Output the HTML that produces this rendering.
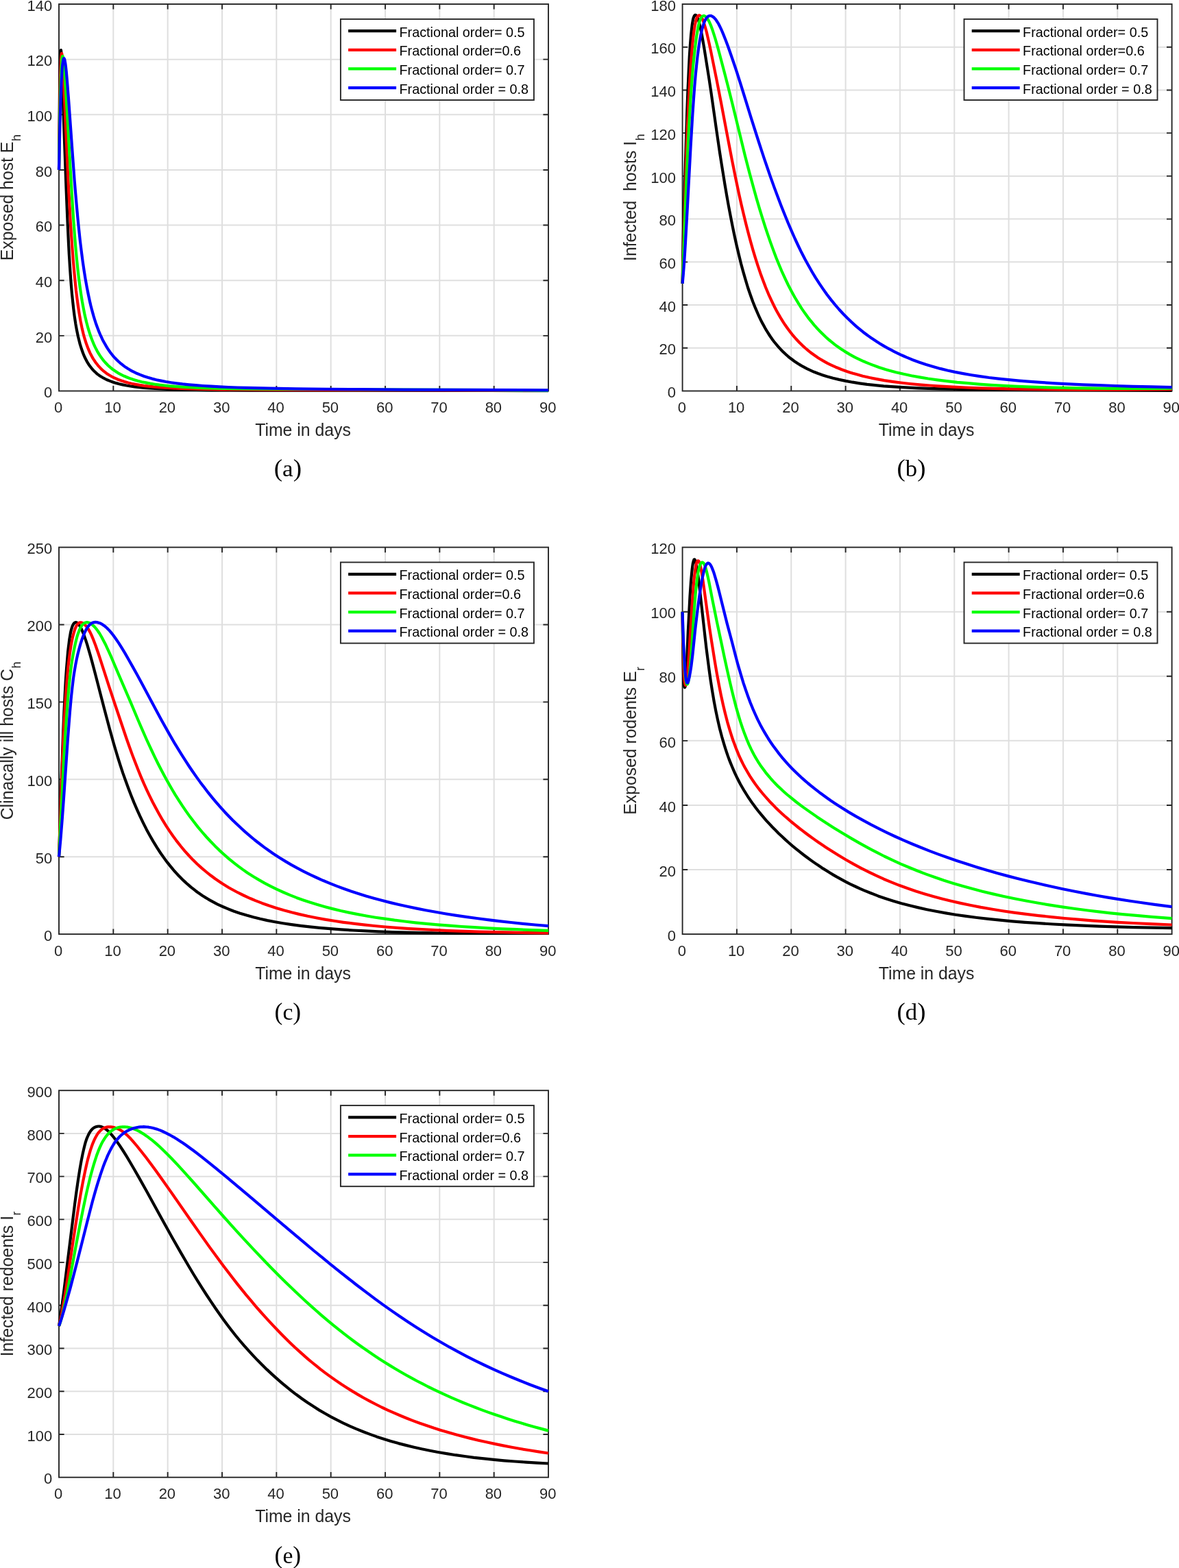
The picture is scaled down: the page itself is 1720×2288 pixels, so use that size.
<!DOCTYPE html>
<html lang="en">
<head>
<meta charset="utf-8">
<title>Fractional order model simulations</title>
<style>
html, body { margin: 0; padding: 0; background: #ffffff; }
body { width: 1720px; height: 2288px; overflow: hidden; }
svg { display: block; font-family: "Liberation Sans", "DejaVu Sans", sans-serif; }
</style>
</head>
<body>
<svg width="1720" height="2288" viewBox="0 0 1720 2288">
<rect x="0" y="0" width="1720" height="2288" fill="#ffffff"/>
<g id="panel-a">
<path d="M165.33 6 V570.5 M244.67 6 V570.5 M324 6 V570.5 M403.33 6 V570.5 M482.67 6 V570.5 M562 6 V570.5 M641.33 6 V570.5 M720.67 6 V570.5 M86 489.86 H800 M86 409.21 H800 M86 328.57 H800 M86 247.93 H800 M86 167.29 H800 M86 86.64 H800" stroke="#dfdfdf" stroke-width="2" fill="none"/>
<path d="M165.33 570.5 v-7.6 M165.33 6 v7.6 M244.67 570.5 v-7.6 M244.67 6 v7.6 M324 570.5 v-7.6 M324 6 v7.6 M403.33 570.5 v-7.6 M403.33 6 v7.6 M482.67 570.5 v-7.6 M482.67 6 v7.6 M562 570.5 v-7.6 M562 6 v7.6 M641.33 570.5 v-7.6 M641.33 6 v7.6 M720.67 570.5 v-7.6 M720.67 6 v7.6 M86 489.86 h7.6 M800 489.86 h-7.6 M86 409.21 h7.6 M800 409.21 h-7.6 M86 328.57 h7.6 M800 328.57 h-7.6 M86 247.93 h7.6 M800 247.93 h-7.6 M86 167.29 h7.6 M800 167.29 h-7.6 M86 86.64 h7.6 M800 86.64 h-7.6" stroke="#262626" stroke-width="1.9" fill="none"/>
<rect x="86" y="6" width="714" height="564.5" fill="none" stroke="#262626" stroke-width="1.9"/>
<clipPath id="clip-a"><rect x="83" y="3" width="720" height="570.5"/></clipPath>
<g clip-path="url(#clip-a)" fill="none" stroke-width="4.2" stroke-linejoin="round" stroke-linecap="butt">
<path d="M86 247.9 L86.7 165.6 L87 135 L87.4 110.8 L87.7 92.8 L88.1 80.7 L88.3 76.8 L88.5 74.3 L88.8 73.2 L88.9 73.2 L89 73.5 L89.3 75.6 L89.6 79.7 L90.2 93.3 L92.9 174.7 L96.4 271.1 L98.3 318.1 L100 355 L100.9 372.2 L101.9 388.4 L102.9 403 L103.9 416.6 L105 429.1 L106.2 440.6 L107.4 451.6 L108.7 461.7 L110.3 472.3 L112 481.8 L113.8 490.5 L115.8 498.6 L116.8 502.4 L117.9 505.9 L119 509.3 L120.2 512.7 L121.3 515.8 L122.6 518.9 L123.9 521.8 L125.3 524.6 L126.7 527.2 L128.1 529.7 L129.6 532 L131.2 534.2 L132.8 536.3 L134.5 538.5 L136.3 540.4 L138.2 542.3 L140.1 544.1 L142.1 545.8 L144.2 547.4 L146.5 548.9 L148.7 550.3 L151.1 551.7 L153.6 553 L156.2 554.3 L160.2 555.9 L164.5 557.5 L169.1 558.9 L173.9 560.2 L178.9 561.4 L184.5 562.5 L190.3 563.5 L196.5 564.3 L203.1 565.1 L210.2 565.8 L217.8 566.4 L226.1 567 L235.2 567.5 L244.9 567.9 L255.4 568.3 L267 568.6 L286.3 569 L308.8 569.3 L334.7 569.5 L365.6 569.7 L417.9 569.7 L631.7 569.8 L714.8 570 L800 570.2" stroke="#000000"/>
<path d="M86 247.9 L86.5 204 L87 167.3 L87.5 137.5 L88 113.9 L88.5 96.5 L89.1 84.8 L89.4 81 L89.7 78.8 L89.8 78.1 L90 77.9 L90.1 78 L90.3 78.5 L90.7 80.9 L91.1 85.3 L91.6 91.7 L92 100.1 L92.9 117.8 L96.1 191.5 L99 252.9 L100.3 279.8 L101.6 302.7 L102.8 324.2 L104.1 343.4 L105.4 362 L106.7 378.8 L108.1 394.8 L109.5 409.5 L110.9 423.4 L112.5 435.9 L114.1 447.6 L115.7 458 L117.5 468.4 L119.5 478.2 L121.5 486.8 L122.6 490.8 L123.8 494.8 L124.9 498.4 L126.1 502.1 L127.4 505.6 L128.7 508.9 L130.1 512.1 L131.4 515.1 L132.9 518 L134.4 520.9 L136 523.6 L137.7 526.2 L139.4 528.7 L141.2 531 L143 533.3 L144.9 535.4 L146.8 537.4 L148.9 539.5 L151 541.3 L153.3 543.1 L155.6 544.9 L158 546.5 L160.5 548 L163 549.5 L165.7 550.9 L168.6 552.2 L172.7 554 L177.2 555.6 L181.9 557.1 L186.9 558.5 L192.1 559.7 L197.6 560.8 L203.5 561.9 L209.8 562.8 L216.6 563.6 L223.8 564.4 L231.7 565.1 L240 565.7 L249 566.2 L258.9 566.7 L269.7 567.1 L281.2 567.5 L300.4 567.9 L322.7 568.3 L348.2 568.5 L379.2 568.7 L430.9 568.9 L638.7 569.3 L718.2 569.6 L800 570.0" stroke="#ff0000"/>
<path d="M86 247.9 L86.6 205 L87.3 169.1 L88 139.7 L88.7 116.6 L89.4 99.4 L89.8 93 L90.1 88.1 L90.5 84.7 L90.9 82.6 L91.2 82.1 L91.4 81.9 L91.6 82.1 L91.8 82.6 L92.1 83.9 L92.4 85.7 L93.1 91.4 L93.8 99.7 L94.6 110.8 L98 165.5 L103 252.4 L105 286.4 L107.2 320.1 L108.3 335 L109.4 349.4 L110.7 364.9 L112.1 379.8 L113.5 393.3 L115 406.1 L116.6 418.1 L118.2 429.3 L119.9 439.9 L121.7 449.7 L123.8 460.3 L125 465.2 L126.2 470.3 L128.6 479.2 L129.9 483.4 L131.3 487.7 L132.6 491.6 L134.1 495.5 L135.5 499 L137 502.6 L138.5 505.9 L140.1 509.1 L141.8 512.3 L143.6 515.3 L145.3 518.1 L147.2 520.9 L149.1 523.5 L151.1 526.1 L153.1 528.5 L155.3 530.8 L157.4 533 L159.8 535.1 L162 537 L164.5 539 L167.1 540.8 L169.7 542.6 L172.4 544.3 L175.2 545.8 L178.1 547.3 L181.2 548.8 L185.8 550.7 L190.7 552.6 L195.7 554.2 L201.1 555.8 L206.8 557.2 L212.8 558.4 L219 559.6 L225.9 560.7 L232.7 561.7 L240.2 562.5 L248.1 563.3 L256.7 564 L265.7 564.6 L275.6 565.2 L286.3 565.7 L297.6 566.1 L316.7 566.7 L338.3 567.1 L363.5 567.5 L393.4 567.7 L443.7 568 L570.8 568.5 L642.7 568.8 L719.4 569.2 L800 569.8" stroke="#00ff00"/>
<path d="M86 247.9 L86.9 204 L87.8 169 L88.7 140.4 L89.6 118 L90.1 109 L90.6 101.5 L91.1 95.4 L91.7 90.7 L92.2 87.4 L92.5 86.3 L92.8 85.6 L93 85.2 L93.3 85.1 L93.6 85.4 L93.9 86 L94.4 87.5 L94.8 89.6 L95.3 92.4 L95.8 96 L96.8 105.1 L97.9 117.4 L100 144.2 L105.7 223.5 L108.7 264.2 L110.4 284.3 L112 302.5 L113.6 319.9 L115.2 335.7 L116.9 351.6 L118.8 366.9 L120.6 381.1 L122.6 394.6 L124.6 407.1 L126.7 418.9 L128.9 430 L131.1 440.2 L132.4 445.8 L133.8 451.2 L135.2 456.4 L136.6 461.4 L138 466 L139.5 470.7 L141.1 475.2 L142.7 479.6 L144.3 483.7 L146 487.8 L147.8 491.6 L149.5 495.4 L151.4 498.9 L153.3 502.3 L155.2 505.6 L157.2 508.8 L159.2 511.8 L161.3 514.7 L163.5 517.5 L165.8 520.3 L168.1 522.8 L170.5 525.2 L172.9 527.5 L175.5 529.8 L178.1 531.9 L180.9 534.1 L183.7 536.1 L186.7 538 L189.7 539.8 L192.9 541.6 L196.1 543.2 L199.4 544.8 L204.6 546.9 L210 549 L215.6 550.8 L221.8 552.6 L228.2 554.2 L234.9 555.6 L242 557 L249.6 558.2 L257.6 559.3 L266.4 560.4 L275.6 561.3 L285.6 562.2 L296.1 563 L307.6 563.7 L320.1 564.4 L333.3 565 L346.8 565.5 L361 565.9 L393.4 566.7 L431.5 567.3 L476.4 567.9 L526.3 568.2 L588.8 568.6 L800 569.3" stroke="#0000ff"/>
</g>
<g font-size="22" fill="#262626">
<text transform="translate(85.2 602.2) scale(1 1.04)" text-anchor="middle">0</text>
<text transform="translate(164.53 602.2) scale(1 1.04)" text-anchor="middle">10</text>
<text transform="translate(243.87 602.2) scale(1 1.04)" text-anchor="middle">20</text>
<text transform="translate(323.2 602.2) scale(1 1.04)" text-anchor="middle">30</text>
<text transform="translate(402.53 602.2) scale(1 1.04)" text-anchor="middle">40</text>
<text transform="translate(481.87 602.2) scale(1 1.04)" text-anchor="middle">50</text>
<text transform="translate(561.2 602.2) scale(1 1.04)" text-anchor="middle">60</text>
<text transform="translate(640.53 602.2) scale(1 1.04)" text-anchor="middle">70</text>
<text transform="translate(719.87 602.2) scale(1 1.04)" text-anchor="middle">80</text>
<text transform="translate(799.2 602.2) scale(1 1.04)" text-anchor="middle">90</text>
<text transform="translate(76.3 580.2) scale(1 1.04)" text-anchor="end">0</text>
<text transform="translate(76.3 499.56) scale(1 1.04)" text-anchor="end">20</text>
<text transform="translate(76.3 418.91) scale(1 1.04)" text-anchor="end">40</text>
<text transform="translate(76.3 338.27) scale(1 1.04)" text-anchor="end">60</text>
<text transform="translate(76.3 257.63) scale(1 1.04)" text-anchor="end">80</text>
<text transform="translate(76.3 176.99) scale(1 1.04)" text-anchor="end">100</text>
<text transform="translate(76.3 96.34) scale(1 1.04)" text-anchor="end">120</text>
<text transform="translate(76.3 15.7) scale(1 1.04)" text-anchor="end">140</text>
</g>
<text transform="translate(442 636.1) scale(1 1.04)" font-size="24.8" fill="#262626" text-anchor="middle">Time in days</text>
<text transform="translate(18.6 288.25) rotate(-90) scale(1 1.04)" font-size="24.8" fill="#262626" text-anchor="middle" xml:space="preserve">Exposed host E<tspan font-size="17.6" dx="0.6" dy="11">h</tspan></text>
<rect x="496.9" y="27.9" width="282" height="118.1" fill="#ffffff" stroke="#262626" stroke-width="1.9"/>
<path d="M508.1 45.2 h70" stroke="#000000" stroke-width="4.2" fill="none"/>
<text x="582.5" y="53.65" font-size="19.8" fill="#000000" xml:space="preserve">Fractional order= 0.5</text>
<path d="M508.1 72.83 h70" stroke="#ff0000" stroke-width="4.2" fill="none"/>
<text x="582.5" y="81.34" font-size="19.8" fill="#000000" xml:space="preserve">Fractional order=0.6</text>
<path d="M508.1 100.46 h70" stroke="#00ff00" stroke-width="4.2" fill="none"/>
<text x="582.5" y="109.03" font-size="19.8" fill="#000000" xml:space="preserve">Fractional order= 0.7</text>
<path d="M508.1 128.09 h70" stroke="#0000ff" stroke-width="4.2" fill="none"/>
<text x="582.5" y="136.72" font-size="19.8" fill="#000000" xml:space="preserve">Fractional order = 0.8</text>
<text transform="translate(419.9 695.4) scale(1.047 1)" font-family="'Liberation Serif', 'DejaVu Serif', serif" font-size="35.4" fill="#000000" text-anchor="middle">(<tspan font-size="33.5">a</tspan>)</text>
</g>
<g id="panel-b">
<path d="M1074.93 6 V570.5 M1154.27 6 V570.5 M1233.6 6 V570.5 M1312.93 6 V570.5 M1392.27 6 V570.5 M1471.6 6 V570.5 M1550.93 6 V570.5 M1630.27 6 V570.5 M995.6 507.78 H1709.6 M995.6 445.06 H1709.6 M995.6 382.33 H1709.6 M995.6 319.61 H1709.6 M995.6 256.89 H1709.6 M995.6 194.17 H1709.6 M995.6 131.44 H1709.6 M995.6 68.72 H1709.6" stroke="#dfdfdf" stroke-width="2" fill="none"/>
<path d="M1074.93 570.5 v-7.6 M1074.93 6 v7.6 M1154.27 570.5 v-7.6 M1154.27 6 v7.6 M1233.6 570.5 v-7.6 M1233.6 6 v7.6 M1312.93 570.5 v-7.6 M1312.93 6 v7.6 M1392.27 570.5 v-7.6 M1392.27 6 v7.6 M1471.6 570.5 v-7.6 M1471.6 6 v7.6 M1550.93 570.5 v-7.6 M1550.93 6 v7.6 M1630.27 570.5 v-7.6 M1630.27 6 v7.6 M995.6 507.78 h7.6 M1709.6 507.78 h-7.6 M995.6 445.06 h7.6 M1709.6 445.06 h-7.6 M995.6 382.33 h7.6 M1709.6 382.33 h-7.6 M995.6 319.61 h7.6 M1709.6 319.61 h-7.6 M995.6 256.89 h7.6 M1709.6 256.89 h-7.6 M995.6 194.17 h7.6 M1709.6 194.17 h-7.6 M995.6 131.44 h7.6 M1709.6 131.44 h-7.6 M995.6 68.72 h7.6 M1709.6 68.72 h-7.6" stroke="#262626" stroke-width="1.9" fill="none"/>
<rect x="995.6" y="6" width="714" height="564.5" fill="none" stroke="#262626" stroke-width="1.9"/>
<clipPath id="clip-b"><rect x="992.6" y="3" width="720" height="570.5"/></clipPath>
<g clip-path="url(#clip-b)" fill="none" stroke-width="4.2" stroke-linejoin="round" stroke-linecap="butt">
<path d="M995.6 413.7 L996.5 357.9 L997 336.7 L997.4 318.3 L1002.2 166.2 L1003.5 131.5 L1004.8 102.4 L1005.8 82.3 L1006.9 65.6 L1008.1 50.7 L1008.8 44.3 L1009.4 39.1 L1009.9 34.8 L1010.6 31 L1011.1 28.1 L1011.8 25.7 L1012.5 23.9 L1012.8 23.3 L1013.2 22.7 L1013.6 22.3 L1014 22 L1014.3 21.9 L1014.7 21.9 L1015.2 22.1 L1015.7 22.5 L1016.3 23.2 L1016.8 24.1 L1017.3 25.1 L1017.9 26.5 L1019.1 29.8 L1020.2 33.9 L1021.5 39.1 L1022.8 45.2 L1024.2 52.4 L1025.6 60.4 L1027.2 69.7 L1034.5 115.5 L1037.8 137.5 L1045.1 189 L1050 222.4 L1052.6 239 L1055.1 254.5 L1057.5 269.3 L1060 284.1 L1062.9 300.5 L1066 316.6 L1068.9 331.3 L1071.9 345.7 L1074.9 359.2 L1078 372.3 L1081 384.6 L1084.2 396.4 L1087.6 408.2 L1091 419.5 L1094.7 430.2 L1098.2 440 L1102.1 449.7 L1105.9 458.5 L1107.8 462.7 L1109.8 466.8 L1111.8 470.7 L1113.9 474.6 L1115.9 478.3 L1118 481.9 L1120.2 485.4 L1122.5 489 L1124.7 492.3 L1127.1 495.7 L1129.4 498.7 L1131.9 501.8 L1134.3 504.7 L1136.9 507.6 L1139.3 510.2 L1142 512.9 L1144.7 515.5 L1147.4 518 L1150.2 520.5 L1153.1 522.8 L1155.8 524.8 L1158.7 527 L1161.7 529 L1164.8 531 L1167.9 532.9 L1171 534.7 L1174.2 536.4 L1177.5 538.1 L1180.8 539.7 L1184.4 541.3 L1187.8 542.8 L1191.6 544.2 L1195.1 545.6 L1199 546.9 L1202.9 548.2 L1207 549.5 L1215.2 551.8 L1224.1 553.9 L1233.7 555.9 L1243.6 557.7 L1253.9 559.3 L1265 560.8 L1276.8 562.1 L1289.2 563.3 L1300.5 564.1 L1312.6 564.9 L1325.6 565.6 L1339.6 566.3 L1354.6 566.8 L1371.2 567.3 L1389.1 567.7 L1408.3 568.1 L1444.8 568.5 L1488.9 568.9 L1646.4 569.6 L1709.6 570.0" stroke="#000000"/>
<path d="M995.6 413.7 L999.2 292.2 L1000.6 251.9 L1001.8 217.1 L1003.1 183.8 L1004.4 154.6 L1005.7 128.9 L1007 106.2 L1008.5 85.2 L1010 67.1 L1010.8 59.2 L1011.6 52 L1012.4 45.8 L1013.2 40.4 L1014 35.7 L1014.8 32 L1015.6 28.9 L1016.5 26.3 L1017.4 24.4 L1017.8 23.8 L1018.3 23.2 L1018.8 22.8 L1019.3 22.5 L1019.9 22.4 L1020.4 22.4 L1021.1 22.7 L1021.7 23.2 L1022.4 23.8 L1023.1 24.8 L1023.7 25.9 L1024.5 27.3 L1025.9 30.7 L1027.4 35 L1029 40.3 L1030.8 46.8 L1032.5 54.2 L1034.6 63.4 L1037 74.6 L1045.1 114.7 L1051.7 148.3 L1061.2 198.7 L1068 234.1 L1073.1 259.5 L1078.1 283.1 L1081.5 298.5 L1085 313.2 L1088.4 327.2 L1091.8 340.4 L1095.1 352.8 L1098.5 364.9 L1101.9 376.2 L1105.4 387.1 L1109.3 398.7 L1113.2 409.3 L1117.1 419.5 L1121.2 429.3 L1125.5 438.6 L1129.8 447.5 L1132.1 452 L1134.3 456 L1138.7 463.6 L1143.2 470.8 L1145.5 474.3 L1148.1 478 L1150.5 481.3 L1153.1 484.7 L1155.5 487.8 L1158.3 491.1 L1160.8 494 L1163.6 497 L1166.4 500 L1169.3 502.8 L1172 505.4 L1174.9 508 L1178 510.6 L1181 513.1 L1184.1 515.5 L1187.3 517.8 L1190.5 520 L1193.7 522.2 L1197 524.2 L1200.7 526.4 L1204.1 528.3 L1207.8 530.3 L1211.4 532.1 L1215.2 533.9 L1219.2 535.7 L1223.2 537.3 L1227.3 539 L1231.4 540.5 L1235.6 542 L1239.9 543.4 L1244.3 544.8 L1249 546.1 L1258.5 548.7 L1268.6 551 L1279.1 553.1 L1290 555.1 L1301.7 556.8 L1314.3 558.5 L1327.4 560 L1341.4 561.3 L1356.5 562.5 L1372.7 563.6 L1390.1 564.6 L1408.9 565.5 L1428.5 566.3 L1449.6 566.9 L1471.7 567.4 L1496.1 567.9 L1521.8 568.2 L1548.8 568.5 L1577.8 568.6 L1608.3 568.6 L1640.4 568.6 L1674.2 568.4 L1709.6 568.1" stroke="#ff0000"/>
<path d="M995.6 413.7 L998.2 344 L999.9 298.8 L1001.6 257.9 L1003.2 222 L1004.9 188.6 L1006.6 159.2 L1008.3 133 L1010 110 L1010.9 98.9 L1011.9 88.5 L1012.9 79.3 L1014 69.4 L1015.1 60.9 L1016.1 53.3 L1017.2 46.8 L1018.2 40.9 L1019.2 36.4 L1020.2 32.5 L1021.3 29.3 L1022.4 26.9 L1022.9 25.9 L1023.5 25 L1024.1 24.3 L1024.7 23.8 L1025.3 23.4 L1026 23.2 L1026.7 23.1 L1027.4 23.2 L1028.2 23.5 L1029.1 24 L1030 24.8 L1030.9 25.7 L1031.8 27 L1032.8 28.4 L1033.7 30.1 L1034.8 32.1 L1036.8 36.6 L1038.9 42.2 L1041.1 48.8 L1043.5 56.5 L1046.2 65.8 L1049.7 78.7 L1056.7 105.3 L1062.5 127.7 L1068.4 151.2 L1079.5 196.8 L1087.1 227.9 L1093.5 252.6 L1099.8 275.8 L1103.8 290.1 L1108 304.3 L1112 317.4 L1116.1 330.4 L1120.2 342.6 L1124.2 354.1 L1128.3 365.4 L1132.3 376 L1136.7 386.7 L1141.1 397.2 L1145.7 407.2 L1150.2 416.5 L1154.9 425.4 L1159.6 434 L1164.5 442.2 L1169.5 450.1 L1174.7 457.6 L1179.7 464.4 L1182.3 467.7 L1185.2 471.2 L1187.8 474.3 L1190.8 477.7 L1193.5 480.6 L1196.5 483.8 L1199.3 486.6 L1202.4 489.6 L1205.2 492.2 L1208.4 495.1 L1211.4 497.5 L1214.6 500.2 L1218 502.8 L1221.3 505.3 L1224.8 507.7 L1228.5 510.3 L1232.1 512.6 L1235.9 514.9 L1239.6 517.1 L1243.6 519.3 L1247.3 521.3 L1251.4 523.3 L1255.6 525.3 L1259.9 527.3 L1264.2 529.1 L1268.6 530.9 L1273.1 532.6 L1277.6 534.3 L1282.2 535.9 L1286.9 537.4 L1291.6 538.9 L1296.8 540.4 L1307.1 543.2 L1318.2 545.8 L1329.6 548.2 L1341.4 550.4 L1354.1 552.5 L1367.2 554.3 L1381.3 556.1 L1396.5 557.8 L1412.2 559.2 L1428.5 560.6 L1446 561.8 L1464.8 562.9 L1484.4 563.8 L1504.8 564.6 L1526.7 565.3 L1549.5 565.9 L1573.2 566.3 L1598.8 566.6 L1625.4 566.8 L1652.3 566.9 L1680.4 566.8 L1709.6 566.6" stroke="#00ff00"/>
<path d="M995.6 413.7 L996.6 402.9 L997.7 389.2 L998.8 372.8 L1000 353.4 L1002.2 314.5 L1007.6 213.7 L1009.1 188.3 L1010.4 166.6 L1011.9 144.9 L1013.3 125.8 L1014.8 108.6 L1016.4 92.9 L1017.4 83.6 L1018.5 74.9 L1019.6 67 L1020.7 60 L1021.9 53.4 L1023 47.7 L1024.2 42.7 L1025.5 38.1 L1026.7 34.3 L1028 30.9 L1029.4 28.2 L1030.1 27 L1030.8 26.1 L1031.5 25.2 L1032.3 24.5 L1033 23.9 L1033.8 23.5 L1034.6 23.2 L1035.5 23 L1036.3 23 L1037.2 23.1 L1038.4 23.5 L1039.5 24.1 L1040.7 24.9 L1041.8 25.9 L1043 27.2 L1044.3 28.7 L1045.5 30.5 L1046.9 32.6 L1048.2 34.8 L1049.6 37.5 L1050.9 40.2 L1052.4 43.3 L1055.4 50.4 L1058.7 58.7 L1062 67.6 L1066.2 79.5 L1070.5 92 L1074.9 105.2 L1080.9 124 L1096.1 173.2 L1105.6 203 L1110.5 218.1 L1115.2 232.4 L1119.8 245.8 L1124.3 258.9 L1129.6 273.6 L1134.7 287.2 L1139.7 300.4 L1144.9 313.5 L1150 326 L1154.9 337.3 L1159.6 348 L1164.5 358.5 L1169.5 368.8 L1174.4 378.3 L1179.5 387.6 L1184.7 396.7 L1189.9 405.4 L1195.4 413.9 L1201 422.1 L1206.4 429.7 L1212.3 437.4 L1218 444.4 L1224.1 451.5 L1230.1 458 L1236.3 464.3 L1242.6 470.3 L1249 476.1 L1256 481.9 L1259.5 484.7 L1263.5 487.7 L1267.1 490.4 L1271.2 493.3 L1275 495.8 L1279.1 498.5 L1283 501 L1287.3 503.6 L1291.2 505.9 L1295.6 508.3 L1300.1 510.7 L1304.6 513.1 L1309.2 515.3 L1313.4 517.4 L1318.2 519.5 L1322.5 521.4 L1327.4 523.4 L1331.8 525.2 L1341.4 528.7 L1351.2 532 L1361.3 535 L1371.7 537.9 L1382.3 540.5 L1393.3 542.9 L1405.1 545.1 L1417.2 547.2 L1429.6 549.1 L1443 551 L1456.8 552.6 L1471.7 554.2 L1487 555.6 L1503.4 556.9 L1521.1 558.1 L1539.4 559.3 L1559 560.3 L1580.1 561.3 L1602.7 562.2 L1627.1 563 L1652.3 563.8 L1679.5 564.4 L1709.6 565.1" stroke="#0000ff"/>
</g>
<g font-size="22" fill="#262626">
<text transform="translate(994.8 602.2) scale(1 1.04)" text-anchor="middle">0</text>
<text transform="translate(1074.13 602.2) scale(1 1.04)" text-anchor="middle">10</text>
<text transform="translate(1153.47 602.2) scale(1 1.04)" text-anchor="middle">20</text>
<text transform="translate(1232.8 602.2) scale(1 1.04)" text-anchor="middle">30</text>
<text transform="translate(1312.13 602.2) scale(1 1.04)" text-anchor="middle">40</text>
<text transform="translate(1391.47 602.2) scale(1 1.04)" text-anchor="middle">50</text>
<text transform="translate(1470.8 602.2) scale(1 1.04)" text-anchor="middle">60</text>
<text transform="translate(1550.13 602.2) scale(1 1.04)" text-anchor="middle">70</text>
<text transform="translate(1629.47 602.2) scale(1 1.04)" text-anchor="middle">80</text>
<text transform="translate(1708.8 602.2) scale(1 1.04)" text-anchor="middle">90</text>
<text transform="translate(985.9 580.2) scale(1 1.04)" text-anchor="end">0</text>
<text transform="translate(985.9 517.48) scale(1 1.04)" text-anchor="end">20</text>
<text transform="translate(985.9 454.76) scale(1 1.04)" text-anchor="end">40</text>
<text transform="translate(985.9 392.03) scale(1 1.04)" text-anchor="end">60</text>
<text transform="translate(985.9 329.31) scale(1 1.04)" text-anchor="end">80</text>
<text transform="translate(985.9 266.59) scale(1 1.04)" text-anchor="end">100</text>
<text transform="translate(985.9 203.87) scale(1 1.04)" text-anchor="end">120</text>
<text transform="translate(985.9 141.14) scale(1 1.04)" text-anchor="end">140</text>
<text transform="translate(985.9 78.42) scale(1 1.04)" text-anchor="end">160</text>
<text transform="translate(985.9 15.7) scale(1 1.04)" text-anchor="end">180</text>
</g>
<text transform="translate(1351.6 636.1) scale(1 1.04)" font-size="24.8" fill="#262626" text-anchor="middle">Time in days</text>
<text transform="translate(928.2 288.25) rotate(-90) scale(1 1.04)" font-size="24.8" fill="#262626" text-anchor="middle" xml:space="preserve">Infected  hosts I<tspan font-size="17.6" dx="0.6" dy="11">h</tspan></text>
<rect x="1406.5" y="27.9" width="282" height="118.1" fill="#ffffff" stroke="#262626" stroke-width="1.9"/>
<path d="M1417.7 45.2 h70" stroke="#000000" stroke-width="4.2" fill="none"/>
<text x="1492.1" y="53.65" font-size="19.8" fill="#000000" xml:space="preserve">Fractional order= 0.5</text>
<path d="M1417.7 72.83 h70" stroke="#ff0000" stroke-width="4.2" fill="none"/>
<text x="1492.1" y="81.34" font-size="19.8" fill="#000000" xml:space="preserve">Fractional order=0.6</text>
<path d="M1417.7 100.46 h70" stroke="#00ff00" stroke-width="4.2" fill="none"/>
<text x="1492.1" y="109.03" font-size="19.8" fill="#000000" xml:space="preserve">Fractional order= 0.7</text>
<path d="M1417.7 128.09 h70" stroke="#0000ff" stroke-width="4.2" fill="none"/>
<text x="1492.1" y="136.72" font-size="19.8" fill="#000000" xml:space="preserve">Fractional order = 0.8</text>
<text transform="translate(1329.5 695.4) scale(1.039 1)" font-family="'Liberation Serif', 'DejaVu Serif', serif" font-size="35.4" fill="#000000" text-anchor="middle">(<tspan font-size="33.5">b</tspan>)</text>
</g>
<g id="panel-c">
<path d="M165.33 798.6 V1363.1 M244.67 798.6 V1363.1 M324 798.6 V1363.1 M403.33 798.6 V1363.1 M482.67 798.6 V1363.1 M562 798.6 V1363.1 M641.33 798.6 V1363.1 M720.67 798.6 V1363.1 M86 1250.2 H800 M86 1137.3 H800 M86 1024.4 H800 M86 911.5 H800" stroke="#dfdfdf" stroke-width="2" fill="none"/>
<path d="M165.33 1363.1 v-7.6 M165.33 798.6 v7.6 M244.67 1363.1 v-7.6 M244.67 798.6 v7.6 M324 1363.1 v-7.6 M324 798.6 v7.6 M403.33 1363.1 v-7.6 M403.33 798.6 v7.6 M482.67 1363.1 v-7.6 M482.67 798.6 v7.6 M562 1363.1 v-7.6 M562 798.6 v7.6 M641.33 1363.1 v-7.6 M641.33 798.6 v7.6 M720.67 1363.1 v-7.6 M720.67 798.6 v7.6 M86 1250.2 h7.6 M800 1250.2 h-7.6 M86 1137.3 h7.6 M800 1137.3 h-7.6 M86 1024.4 h7.6 M800 1024.4 h-7.6 M86 911.5 h7.6 M800 911.5 h-7.6" stroke="#262626" stroke-width="1.9" fill="none"/>
<rect x="86" y="798.6" width="714" height="564.5" fill="none" stroke="#262626" stroke-width="1.9"/>
<clipPath id="clip-c"><rect x="83" y="795.6" width="720" height="570.5"/></clipPath>
<g clip-path="url(#clip-c)" fill="none" stroke-width="4.2" stroke-linejoin="round" stroke-linecap="butt">
<path d="M86 1250.2 L89.8 1132.4 L91.1 1097.8 L92.2 1068.4 L93.4 1039.7 L94.6 1015.6 L95.7 994.6 L97 976 L98.4 959.1 L99 951.8 L99.8 944.7 L100.6 938.4 L101.3 932.6 L102.2 927.5 L102.9 923.3 L103.8 919.5 L104.7 916.4 L105.6 913.7 L106.6 911.6 L107.1 910.7 L107.6 910 L108.1 909.3 L108.7 908.9 L109.2 908.5 L109.8 908.3 L110.3 908.2 L110.9 908.2 L111.7 908.4 L112.5 908.8 L113.3 909.4 L114.1 910.2 L114.9 911.1 L115.7 912.3 L116.6 913.6 L117.5 915.1 L119.2 918.7 L121.1 923.1 L123 928.1 L125.1 934.1 L127.2 940.6 L129.3 947.8 L131.7 956.2 L134.3 965.6 L138.7 982.3 L152.2 1034.6 L156.5 1050.8 L160.2 1064.6 L166.1 1085.7 L169 1095.5 L171.8 1104.8 L175.6 1116.9 L179.3 1128.1 L183.2 1139 L187.3 1150.2 L191.4 1160.9 L195.6 1171.4 L199.9 1181.3 L204.1 1190.6 L209 1200.8 L213.8 1210.4 L218.9 1219.7 L223.9 1228.4 L229.1 1236.9 L234.4 1245 L240 1252.9 L242.8 1256.7 L245.7 1260.4 L248.7 1264.1 L251.4 1267.4 L254.4 1271 L257.3 1274.1 L260.4 1277.5 L263.4 1280.5 L266.3 1283.5 L269.4 1286.4 L272.5 1289.2 L275.6 1291.9 L278.7 1294.6 L282 1297.2 L285.2 1299.7 L288.6 1302.2 L291.9 1304.5 L295.4 1306.9 L298.8 1309.1 L302.4 1311.3 L305.9 1313.4 L309.6 1315.4 L313.3 1317.4 L317 1319.3 L320.8 1321.1 L325 1323 L333 1326.4 L337 1328 L341.5 1329.7 L350.3 1332.7 L359.8 1335.6 L369.5 1338.3 L379.6 1340.8 L390.1 1343.1 L401.3 1345.2 L412.9 1347.2 L425.4 1349.1 L438.3 1350.8 L451.7 1352.4 L466.1 1353.8 L481.6 1355.2 L497.6 1356.4 L514.9 1357.5 L532.8 1358.4 L552.1 1359.3 L572.2 1360 L593.2 1360.6 L615.7 1361.1 L639.2 1361.5 L664.4 1361.8 L690 1362 L716.6 1362 L743.6 1361.9 L771.7 1361.7 L800 1361.4" stroke="#000000"/>
<path d="M86 1250.2 L89.8 1141.6 L91.2 1107.3 L92.5 1077.9 L93.9 1050.2 L95.6 1021 L97.2 998.9 L98 988.9 L98.8 980.1 L99.6 971.2 L100.6 963 L101.5 955.7 L102.6 948.5 L103.7 941.3 L104.9 934.9 L106.1 929.3 L107.4 924.4 L108.6 920.3 L109.8 916.8 L111 914.1 L111.7 912.9 L112.4 911.8 L113 910.9 L113.7 910.1 L114.4 909.5 L115.2 908.9 L115.9 908.6 L116.7 908.4 L117.5 908.3 L118.2 908.3 L119.2 908.6 L120.3 909 L121.4 909.6 L122.5 910.5 L123.6 911.5 L124.8 912.7 L126 914 L127.2 915.5 L128.3 917.1 L129.4 918.9 L131.5 922.6 L133.4 926.6 L135.7 932.1 L137.4 936.6 L139.4 941.8 L143.5 953.5 L147.3 965.1 L158.9 1001.2 L168.5 1030 L184.3 1077 L188.8 1089.7 L193.1 1101.6 L197.3 1112.6 L201.4 1123 L205.6 1133.4 L209.8 1143.2 L214.2 1152.8 L218.5 1161.9 L222.9 1170.8 L227.3 1179.1 L232.2 1188 L237.2 1196.7 L242.4 1205.1 L247.5 1212.9 L252.8 1220.5 L258.3 1227.9 L263.9 1235 L269.6 1241.8 L275.6 1248.5 L281.4 1254.6 L287.7 1260.7 L293.9 1266.4 L300.6 1272 L307.2 1277.3 L313.9 1282.3 L321.2 1287.3 L325 1289.8 L329 1292.2 L333 1294.7 L337 1297 L345.3 1301.5 L349.6 1303.7 L354.3 1306 L363.1 1310.1 L367.6 1312 L372.6 1314.1 L382.4 1317.9 L392.5 1321.5 L403 1324.9 L414.2 1328.3 L425.4 1331.3 L436.9 1334.1 L448.8 1336.8 L461.1 1339.3 L473.8 1341.6 L487.4 1343.8 L500.9 1345.8 L515.5 1347.7 L530.5 1349.4 L546 1351 L562.1 1352.5 L579.3 1353.9 L597.2 1355.1 L615.7 1356.2 L634.8 1357.2 L655.4 1358.1 L676.7 1358.9 L699.5 1359.6 L723.3 1360.2 L747.9 1360.7 L773.5 1361.1 L800 1361.3" stroke="#ff0000"/>
<path d="M86 1250.2 L91.6 1137.6 L93.3 1104.4 L95.1 1075.5 L97.2 1044.3 L99.1 1019.1 L100.1 1007.8 L101 997.6 L102 988 L103 979.5 L104.1 970.9 L105.3 962.9 L106.7 955 L108.1 947.5 L109.6 940.5 L111.1 934.1 L112.6 928.5 L114.2 923.7 L115.7 919.7 L117.3 916.3 L118.1 914.8 L118.9 913.5 L119.7 912.3 L120.6 911.3 L121.4 910.5 L122.3 909.7 L123.2 909.1 L124.1 908.7 L125 908.4 L126 908.2 L126.9 908.1 L128 908.2 L129.2 908.5 L130.5 909 L131.9 909.7 L133.3 910.6 L134.8 911.7 L136.2 913 L137.6 914.4 L139.1 916 L140.6 917.8 L142.2 919.9 L143.6 922 L145.2 924.3 L148.1 929.2 L151.1 934.9 L153.6 939.7 L156 944.9 L158.7 950.7 L161.5 956.9 L173.5 985.1 L190 1023.4 L201.5 1050.8 L206.5 1062.4 L213.8 1079 L221 1094.5 L225.9 1104.8 L230.9 1115 L235.7 1124.3 L240.6 1133.5 L245.5 1142.3 L250.5 1151 L255.6 1159.6 L260.7 1167.6 L266.1 1175.9 L271.7 1184.1 L277.4 1192.1 L283.1 1199.6 L288.8 1206.9 L294.8 1214 L300.9 1221 L307.2 1227.8 L313.6 1234.4 L319.9 1240.6 L326.7 1246.8 L333.3 1252.6 L340.1 1258.2 L347.1 1263.6 L354.3 1268.9 L361.2 1273.7 L369.5 1279 L377.7 1283.9 L386 1288.6 L394.6 1293.1 L403.8 1297.7 L413.4 1302 L423.1 1306.1 L432.7 1309.9 L442.6 1313.4 L452.7 1316.8 L463.1 1320 L474.3 1323.2 L485.3 1326.1 L497.1 1329 L509.2 1331.6 L521.8 1334.1 L534.6 1336.5 L547.8 1338.7 L561.5 1340.7 L575.5 1342.7 L590.5 1344.5 L606 1346.3 L622 1347.9 L638.4 1349.3 L655.4 1350.7 L673.6 1352 L692.3 1353.2 L712.5 1354.3 L732.5 1355.3 L754 1356.2 L776.2 1357.1 L800 1357.8" stroke="#00ff00"/>
<path d="M86 1250.2 L87.1 1238.7 L88.3 1225.7 L89.5 1211 L90.8 1194.6 L93.2 1161.4 L98.9 1078.2 L100.6 1056.2 L102 1038.3 L103.6 1020.2 L105.3 1004.3 L107 990.1 L107.9 983.7 L108.9 977.7 L110.3 969.5 L111.8 961.9 L113.5 954.2 L115.5 946.5 L117.5 939.4 L119.6 933 L121.6 927.5 L123.6 922.7 L125.6 918.8 L126.6 917.1 L127.6 915.5 L128.6 914.1 L129.7 912.8 L130.8 911.7 L131.8 910.8 L132.8 910 L133.9 909.3 L135.1 908.8 L136.3 908.3 L137.4 908.1 L138.7 907.9 L139.9 907.9 L141.2 908 L143 908.4 L144.8 908.9 L146.6 909.7 L148.5 910.7 L150.4 911.9 L152.3 913.2 L154.2 914.8 L156.1 916.5 L158 918.4 L160.1 920.6 L162.2 923.1 L164.3 925.8 L166.5 928.6 L168.7 931.8 L173.4 938.6 L177.5 945.2 L182.2 952.9 L187.4 962 L193.4 972.6 L199.9 984.3 L207.2 997.8 L227.5 1035.7 L235.7 1051 L245.3 1068.1 L254.2 1083.6 L259.7 1092.7 L265.1 1101.4 L270.7 1110.2 L276.1 1118.5 L281.4 1126.3 L286.9 1134.1 L292.5 1141.9 L298 1149.1 L303.8 1156.7 L309.6 1163.8 L315.5 1170.8 L321.2 1177.4 L327.3 1184.2 L333.3 1190.5 L339.4 1196.7 L345.7 1202.8 L352.1 1208.8 L358.3 1214.4 L365 1220.1 L371.4 1225.5 L378.5 1231 L385.2 1236.1 L392.1 1241 L399.2 1245.9 L407.7 1251.5 L416 1256.6 L424.9 1261.9 L433.6 1266.7 L443 1271.6 L452.2 1276.2 L461.6 1280.5 L471.2 1284.8 L481 1288.9 L491.1 1292.9 L501.5 1296.7 L512.1 1300.4 L522.9 1303.9 L534 1307.4 L545.4 1310.7 L557.7 1314 L569.7 1317.1 L581.9 1320 L594.5 1322.8 L608.1 1325.6 L621.3 1328.2 L635.5 1330.8 L649.4 1333.2 L664.4 1335.6 L679.8 1337.9 L695.5 1340 L711.7 1342.1 L728.3 1344.1 L745.3 1346 L762.8 1347.8 L780.7 1349.5 L800 1351.2" stroke="#0000ff"/>
</g>
<g font-size="22" fill="#262626">
<text transform="translate(85.2 1394.8) scale(1 1.04)" text-anchor="middle">0</text>
<text transform="translate(164.53 1394.8) scale(1 1.04)" text-anchor="middle">10</text>
<text transform="translate(243.87 1394.8) scale(1 1.04)" text-anchor="middle">20</text>
<text transform="translate(323.2 1394.8) scale(1 1.04)" text-anchor="middle">30</text>
<text transform="translate(402.53 1394.8) scale(1 1.04)" text-anchor="middle">40</text>
<text transform="translate(481.87 1394.8) scale(1 1.04)" text-anchor="middle">50</text>
<text transform="translate(561.2 1394.8) scale(1 1.04)" text-anchor="middle">60</text>
<text transform="translate(640.53 1394.8) scale(1 1.04)" text-anchor="middle">70</text>
<text transform="translate(719.87 1394.8) scale(1 1.04)" text-anchor="middle">80</text>
<text transform="translate(799.2 1394.8) scale(1 1.04)" text-anchor="middle">90</text>
<text transform="translate(76.3 1372.8) scale(1 1.04)" text-anchor="end">0</text>
<text transform="translate(76.3 1259.9) scale(1 1.04)" text-anchor="end">50</text>
<text transform="translate(76.3 1147) scale(1 1.04)" text-anchor="end">100</text>
<text transform="translate(76.3 1034.1) scale(1 1.04)" text-anchor="end">150</text>
<text transform="translate(76.3 921.2) scale(1 1.04)" text-anchor="end">200</text>
<text transform="translate(76.3 808.3) scale(1 1.04)" text-anchor="end">250</text>
</g>
<text transform="translate(442 1428.7) scale(1 1.04)" font-size="24.8" fill="#262626" text-anchor="middle">Time in days</text>
<text transform="translate(18.6 1080.85) rotate(-90) scale(1 1.04)" font-size="24.8" fill="#262626" text-anchor="middle" xml:space="preserve">Clinacally ill hosts C<tspan font-size="17.6" dx="0.6" dy="11">h</tspan></text>
<rect x="496.9" y="820.5" width="282" height="118.1" fill="#ffffff" stroke="#262626" stroke-width="1.9"/>
<path d="M508.1 837.8 h70" stroke="#000000" stroke-width="4.2" fill="none"/>
<text x="582.5" y="846.25" font-size="19.8" fill="#000000" xml:space="preserve">Fractional order= 0.5</text>
<path d="M508.1 865.43 h70" stroke="#ff0000" stroke-width="4.2" fill="none"/>
<text x="582.5" y="873.94" font-size="19.8" fill="#000000" xml:space="preserve">Fractional order=0.6</text>
<path d="M508.1 893.06 h70" stroke="#00ff00" stroke-width="4.2" fill="none"/>
<text x="582.5" y="901.63" font-size="19.8" fill="#000000" xml:space="preserve">Fractional order= 0.7</text>
<path d="M508.1 920.69 h70" stroke="#0000ff" stroke-width="4.2" fill="none"/>
<text x="582.5" y="929.32" font-size="19.8" fill="#000000" xml:space="preserve">Fractional order = 0.8</text>
<text transform="translate(419.9 1488) scale(1.003 1)" font-family="'Liberation Serif', 'DejaVu Serif', serif" font-size="35.4" fill="#000000" text-anchor="middle">(<tspan font-size="33.5">c</tspan>)</text>
</g>
<g id="panel-d">
<path d="M1074.93 798.6 V1363.1 M1154.27 798.6 V1363.1 M1233.6 798.6 V1363.1 M1312.93 798.6 V1363.1 M1392.27 798.6 V1363.1 M1471.6 798.6 V1363.1 M1550.93 798.6 V1363.1 M1630.27 798.6 V1363.1 M995.6 1269.02 H1709.6 M995.6 1174.93 H1709.6 M995.6 1080.85 H1709.6 M995.6 986.77 H1709.6 M995.6 892.68 H1709.6" stroke="#dfdfdf" stroke-width="2" fill="none"/>
<path d="M1074.93 1363.1 v-7.6 M1074.93 798.6 v7.6 M1154.27 1363.1 v-7.6 M1154.27 798.6 v7.6 M1233.6 1363.1 v-7.6 M1233.6 798.6 v7.6 M1312.93 1363.1 v-7.6 M1312.93 798.6 v7.6 M1392.27 1363.1 v-7.6 M1392.27 798.6 v7.6 M1471.6 1363.1 v-7.6 M1471.6 798.6 v7.6 M1550.93 1363.1 v-7.6 M1550.93 798.6 v7.6 M1630.27 1363.1 v-7.6 M1630.27 798.6 v7.6 M995.6 1269.02 h7.6 M1709.6 1269.02 h-7.6 M995.6 1174.93 h7.6 M1709.6 1174.93 h-7.6 M995.6 1080.85 h7.6 M1709.6 1080.85 h-7.6 M995.6 986.77 h7.6 M1709.6 986.77 h-7.6 M995.6 892.68 h7.6 M1709.6 892.68 h-7.6" stroke="#262626" stroke-width="1.9" fill="none"/>
<rect x="995.6" y="798.6" width="714" height="564.5" fill="none" stroke="#262626" stroke-width="1.9"/>
<clipPath id="clip-d"><rect x="992.6" y="795.6" width="720" height="570.5"/></clipPath>
<g clip-path="url(#clip-d)" fill="none" stroke-width="4.2" stroke-linejoin="round" stroke-linecap="butt">
<path d="M995.6 892.7 L995.9 924.2 L996.3 950.6 L996.7 970.9 L997.1 986.7 L997.5 995.3 L997.8 998.3 L998.1 1000.5 L998.4 1002.1 L998.6 1002.6 L998.8 1002.9 L999 1003 L999.2 1002.8 L999.4 1002.4 L999.6 1001.9 L1000 999.5 L1000.3 995.7 L1000.8 990.3 L1001.2 982.9 L1002 966.1 L1003.8 922.1 L1004.9 900.8 L1006.5 870.7 L1007.3 858.7 L1008 848.5 L1008.8 839.6 L1009.5 832.5 L1010.2 826.5 L1010.9 821.9 L1011.7 818.7 L1012.1 817.6 L1012.4 816.8 L1012.8 816.4 L1013.2 816.3 L1013.5 816.5 L1013.9 817.1 L1014.4 818.1 L1014.9 819.6 L1015.3 821.5 L1015.9 824.1 L1017 830.5 L1018.3 839.1 L1019.6 849.4 L1021.1 862.4 L1028.6 929.8 L1030.4 945.6 L1032.2 959.6 L1034.5 977.2 L1036.8 993.8 L1039.2 1008.8 L1041.6 1023.1 L1044.3 1037.3 L1047.1 1050.6 L1050 1063.2 L1053.1 1075 L1054.8 1080.9 L1056.5 1086.6 L1058.2 1092.2 L1060 1097.6 L1061.8 1102.9 L1063.7 1108.1 L1065.7 1113.1 L1067.7 1118 L1070 1123.4 L1072.3 1128.6 L1074.8 1133.8 L1077.4 1139 L1080.1 1144.2 L1083 1149.2 L1085.9 1154.2 L1088.9 1159 L1092 1163.8 L1095.3 1168.7 L1098.8 1173.6 L1102.4 1178.4 L1106.1 1183.2 L1109.9 1187.9 L1113.9 1192.6 L1117.9 1197.3 L1122.4 1202.2 L1126.7 1206.8 L1131.5 1211.6 L1136.1 1216.2 L1141 1220.8 L1145.9 1225.4 L1151.1 1230 L1156.1 1234.3 L1161.6 1238.8 L1167 1243.2 L1172.5 1247.5 L1177.9 1251.5 L1183.5 1255.6 L1189.2 1259.6 L1195.1 1263.6 L1200.8 1267.4 L1210.6 1273.5 L1215.7 1276.6 L1220.5 1279.4 L1230 1284.6 L1235.1 1287.3 L1240 1289.8 L1249.9 1294.5 L1255 1296.8 L1260.2 1299.1 L1270.5 1303.3 L1281.1 1307.4 L1292.2 1311.2 L1303.2 1314.7 L1315.1 1318.2 L1326.9 1321.3 L1339.7 1324.4 L1352.4 1327.2 L1365.5 1329.8 L1379.8 1332.4 L1394 1334.7 L1409.3 1336.9 L1425.3 1339 L1441.8 1340.9 L1459 1342.7 L1476.8 1344.3 L1495.3 1345.8 L1515.3 1347.2 L1536.2 1348.5 L1557.9 1349.6 L1580.4 1350.7 L1603.9 1351.6 L1628.2 1352.4 L1654.6 1353.1 L1681 1353.6 L1709.6 1354.1" stroke="#000000"/>
<path d="M995.6 892.7 L996 921 L996.5 944.5 L997.1 963.6 L997.7 978.7 L998.3 989.7 L998.7 993.7 L999.1 996.7 L999.5 998.7 L999.7 999.3 L999.9 999.7 L1000.1 999.9 L1000.3 999.8 L1000.6 999.5 L1000.8 998.9 L1001.1 997.5 L1001.5 995.4 L1002.3 989.7 L1003.1 981.7 L1004 971.2 L1005.4 950.9 L1008.2 905 L1010 877.1 L1011.4 858.1 L1012.7 843.7 L1013.6 836.4 L1014.4 830.4 L1015.2 825.8 L1016 822.2 L1016.4 820.8 L1016.8 819.9 L1017.3 819 L1017.7 818.5 L1018.2 818.3 L1018.6 818.3 L1019.1 818.6 L1019.6 819.2 L1020.1 820.3 L1020.6 821.5 L1021.1 823.1 L1021.6 825.2 L1022.7 830.3 L1023.9 836.9 L1024.9 843.3 L1026.1 851.3 L1031.9 893.6 L1035.3 917.5 L1038 935.1 L1042.7 964.6 L1045.5 981.2 L1048.7 998.4 L1051.9 1014.6 L1055 1028.7 L1058 1041.3 L1061.1 1053.3 L1064.5 1064.8 L1066.3 1070.7 L1068 1076 L1069.8 1081.3 L1071.7 1086.3 L1073.5 1091.3 L1075.5 1096.1 L1077.4 1100.8 L1079.4 1105.3 L1081.6 1110 L1084 1114.9 L1086.3 1119.3 L1088.9 1123.8 L1091.5 1128.3 L1094.1 1132.6 L1096.9 1136.9 L1099.7 1141 L1102.6 1145.1 L1105.7 1149.3 L1108.9 1153.4 L1112.3 1157.5 L1115.7 1161.5 L1119.4 1165.7 L1123 1169.7 L1127 1173.8 L1131 1177.9 L1135.4 1182.2 L1139.7 1186.2 L1144.4 1190.5 L1149.3 1194.7 L1154.2 1199 L1159.4 1203.2 L1164.7 1207.5 L1170.1 1211.7 L1175.8 1216 L1181.6 1220.3 L1187.3 1224.4 L1193.1 1228.5 L1199.1 1232.6 L1205.3 1236.7 L1211.3 1240.6 L1222.4 1247.5 L1234 1254.5 L1245.3 1260.9 L1256.3 1266.8 L1267.3 1272.4 L1278.3 1277.7 L1289.3 1282.7 L1300.6 1287.4 L1312.4 1292.1 L1324.1 1296.3 L1336.3 1300.5 L1348.3 1304.2 L1361.3 1308 L1374.2 1311.5 L1387.5 1314.8 L1401.2 1317.9 L1416.2 1321 L1430.9 1323.9 L1446.2 1326.5 L1462.8 1329.2 L1479.2 1331.6 L1496.9 1333.9 L1515.3 1336.1 L1534.4 1338.1 L1553.3 1340 L1572.8 1341.7 L1593 1343.3 L1611.9 1344.6 L1631.3 1345.8 L1653.5 1347 L1677.7 1348.1 L1709.6 1349.5" stroke="#ff0000"/>
<path d="M995.6 892.7 L996.3 920.9 L997.1 944.4 L998 963.4 L998.4 971.4 L998.9 978.3 L999.3 983.8 L999.8 988.4 L1000.3 992.1 L1000.9 995 L1001.5 997.2 L1001.8 997.8 L1002.1 998.3 L1002.4 998.5 L1002.7 998.4 L1003 998.1 L1003.3 997.5 L1003.8 996.2 L1004.2 994.3 L1004.7 991.8 L1005.2 988.7 L1006.1 980.9 L1007.1 971 L1007.9 961.5 L1008.7 950.3 L1012.1 899.5 L1013.6 878.5 L1014.5 868.5 L1015.3 859.7 L1016.1 852.2 L1016.9 845.6 L1017.9 838.3 L1019 832.4 L1019.6 829.9 L1020.2 827.7 L1020.8 825.8 L1021.4 824.2 L1022 822.8 L1022.6 821.8 L1023.3 821.1 L1023.9 820.6 L1024.6 820.5 L1025.2 820.7 L1025.9 821.2 L1026.6 822 L1027.2 823.1 L1027.9 824.5 L1028.6 826.2 L1029.3 828.2 L1030.7 833.2 L1032.3 840 L1034.3 849.3 L1039.2 874.6 L1045.9 907.7 L1051.7 934.7 L1057.1 960.5 L1060.9 977.9 L1064.6 994.1 L1067.9 1008.3 L1070.9 1020.3 L1073.9 1031.9 L1077 1042.7 L1080 1052.6 L1083.1 1062 L1086.2 1070.6 L1089.4 1078.8 L1092.6 1086.4 L1096 1093.6 L1098.1 1097.7 L1100.2 1101.7 L1102.4 1105.6 L1104.6 1109.3 L1106.8 1112.9 L1109.3 1116.7 L1111.7 1120 L1114.3 1123.6 L1116.9 1127.1 L1119.6 1130.4 L1122.4 1133.7 L1125.2 1137 L1128.3 1140.4 L1131.5 1143.7 L1134.7 1146.9 L1138 1150.1 L1141.4 1153.3 L1145.2 1156.7 L1149 1160 L1152.9 1163.2 L1161.3 1170 L1170.7 1177.1 L1181 1184.4 L1191.8 1191.9 L1203.6 1199.7 L1216.4 1207.9 L1229.6 1216 L1242.8 1223.9 L1255 1230.9 L1266.8 1237.4 L1278.8 1243.7 L1290.2 1249.5 L1302.1 1255.2 L1314 1260.6 L1326.3 1265.8 L1338.5 1270.8 L1351.2 1275.6 L1364.3 1280.3 L1377.3 1284.7 L1390.7 1288.9 L1404.6 1293 L1418.3 1296.8 L1433.1 1300.7 L1448.4 1304.4 L1464.3 1308 L1480 1311.2 L1496.9 1314.5 L1513.6 1317.5 L1531.8 1320.6 L1549.6 1323.3 L1568.1 1326 L1587.2 1328.5 L1602.9 1330.4 L1620 1332.3 L1637.6 1334.1 L1657.9 1335.9 L1679.9 1337.8 L1709.6 1340.2" stroke="#00ff00"/>
<path d="M995.6 892.7 L996.4 920.1 L997.3 942.4 L998.2 960.5 L999.1 974.9 L999.5 980.7 L1000.1 985.7 L1000.6 989.7 L1001.1 992.7 L1001.6 994.9 L1001.9 995.7 L1002.2 996.2 L1002.5 996.5 L1002.8 996.5 L1003.1 996.4 L1003.4 995.9 L1003.9 994.8 L1004.5 992.9 L1005.1 990.4 L1005.8 987.3 L1007.2 979.7 L1008.5 971.2 L1009.3 964.5 L1010.3 956.4 L1014.2 918.6 L1017.1 894.1 L1019 879.3 L1020.9 865.7 L1022.6 854.7 L1024.2 845.6 L1025.7 838.4 L1027.1 832.6 L1027.8 830 L1028.5 828 L1029.2 826.2 L1029.9 824.7 L1030.6 823.5 L1031.3 822.6 L1032 822 L1032.7 821.7 L1033.4 821.6 L1034.2 821.9 L1034.9 822.4 L1035.7 823.2 L1036.7 824.6 L1037.7 826.4 L1038.7 828.6 L1039.7 831.1 L1040.9 834.2 L1042 837.7 L1044.6 846.4 L1047 855.1 L1049.7 865.7 L1060.6 909.6 L1067.7 936 L1073.1 957.1 L1076.1 968.2 L1079 978.2 L1081.8 987.6 L1084.6 996.8 L1087.9 1006.7 L1091.3 1016.4 L1094.6 1025.2 L1098.1 1033.8 L1101.7 1042 L1105.3 1049.9 L1109.1 1057.4 L1113.1 1064.7 L1115.5 1068.9 L1118.2 1073.4 L1120.7 1077.5 L1123.5 1081.8 L1126.3 1086 L1129.2 1090.1 L1132.2 1094.1 L1135.2 1098.1 L1138.3 1102 L1141.4 1105.8 L1144.7 1109.6 L1148.2 1113.6 L1151.6 1117.3 L1155.3 1121.2 L1158.8 1124.7 L1162.7 1128.5 L1166.4 1132 L1170.4 1135.7 L1174.6 1139.4 L1178.8 1143 L1183.2 1146.6 L1187.6 1150.2 L1192.1 1153.7 L1196.8 1157.3 L1206.4 1164.2 L1211.3 1167.7 L1216.8 1171.4 L1227.3 1178.2 L1238.3 1185.1 L1249 1191.4 L1259.8 1197.4 L1270.9 1203.4 L1282.1 1209.1 L1293.7 1214.8 L1305.7 1220.5 L1317.7 1225.9 L1330.2 1231.2 L1343.1 1236.5 L1355.9 1241.6 L1369.2 1246.6 L1382.3 1251.3 L1395.9 1256 L1410 1260.6 L1424.6 1265.2 L1438.9 1269.5 L1454.4 1273.9 L1469.7 1278.1 L1485.6 1282.2 L1501.1 1286 L1517.1 1289.8 L1533.5 1293.5 L1550.6 1297.2 L1568.1 1300.7 L1584.3 1303.9 L1599.9 1306.8 L1614.9 1309.4 L1630.3 1311.9 L1647.1 1314.5 L1664.4 1317 L1684.4 1319.8 L1709.6 1323.2" stroke="#0000ff"/>
</g>
<g font-size="22" fill="#262626">
<text transform="translate(994.8 1394.8) scale(1 1.04)" text-anchor="middle">0</text>
<text transform="translate(1074.13 1394.8) scale(1 1.04)" text-anchor="middle">10</text>
<text transform="translate(1153.47 1394.8) scale(1 1.04)" text-anchor="middle">20</text>
<text transform="translate(1232.8 1394.8) scale(1 1.04)" text-anchor="middle">30</text>
<text transform="translate(1312.13 1394.8) scale(1 1.04)" text-anchor="middle">40</text>
<text transform="translate(1391.47 1394.8) scale(1 1.04)" text-anchor="middle">50</text>
<text transform="translate(1470.8 1394.8) scale(1 1.04)" text-anchor="middle">60</text>
<text transform="translate(1550.13 1394.8) scale(1 1.04)" text-anchor="middle">70</text>
<text transform="translate(1629.47 1394.8) scale(1 1.04)" text-anchor="middle">80</text>
<text transform="translate(1708.8 1394.8) scale(1 1.04)" text-anchor="middle">90</text>
<text transform="translate(985.9 1372.8) scale(1 1.04)" text-anchor="end">0</text>
<text transform="translate(985.9 1278.72) scale(1 1.04)" text-anchor="end">20</text>
<text transform="translate(985.9 1184.63) scale(1 1.04)" text-anchor="end">40</text>
<text transform="translate(985.9 1090.55) scale(1 1.04)" text-anchor="end">60</text>
<text transform="translate(985.9 996.47) scale(1 1.04)" text-anchor="end">80</text>
<text transform="translate(985.9 902.38) scale(1 1.04)" text-anchor="end">100</text>
<text transform="translate(985.9 808.3) scale(1 1.04)" text-anchor="end">120</text>
</g>
<text transform="translate(1351.6 1428.7) scale(1 1.04)" font-size="24.8" fill="#262626" text-anchor="middle">Time in days</text>
<text transform="translate(928.2 1080.85) rotate(-90) scale(1 1.04)" font-size="24.8" fill="#262626" text-anchor="middle" xml:space="preserve">Exposed rodents E<tspan font-size="17.6" dx="0.6" dy="11">r</tspan></text>
<rect x="1406.5" y="820.5" width="282" height="118.1" fill="#ffffff" stroke="#262626" stroke-width="1.9"/>
<path d="M1417.7 837.8 h70" stroke="#000000" stroke-width="4.2" fill="none"/>
<text x="1492.1" y="846.25" font-size="19.8" fill="#000000" xml:space="preserve">Fractional order= 0.5</text>
<path d="M1417.7 865.43 h70" stroke="#ff0000" stroke-width="4.2" fill="none"/>
<text x="1492.1" y="873.94" font-size="19.8" fill="#000000" xml:space="preserve">Fractional order=0.6</text>
<path d="M1417.7 893.06 h70" stroke="#00ff00" stroke-width="4.2" fill="none"/>
<text x="1492.1" y="901.63" font-size="19.8" fill="#000000" xml:space="preserve">Fractional order= 0.7</text>
<path d="M1417.7 920.69 h70" stroke="#0000ff" stroke-width="4.2" fill="none"/>
<text x="1492.1" y="929.32" font-size="19.8" fill="#000000" xml:space="preserve">Fractional order = 0.8</text>
<text transform="translate(1329.5 1488) scale(1.039 1)" font-family="'Liberation Serif', 'DejaVu Serif', serif" font-size="35.4" fill="#000000" text-anchor="middle">(<tspan font-size="33.5">d</tspan>)</text>
</g>
<g id="panel-e">
<path d="M165.33 1591.2 V2155.7 M244.67 1591.2 V2155.7 M324 1591.2 V2155.7 M403.33 1591.2 V2155.7 M482.67 1591.2 V2155.7 M562 1591.2 V2155.7 M641.33 1591.2 V2155.7 M720.67 1591.2 V2155.7 M86 2092.98 H800 M86 2030.26 H800 M86 1967.53 H800 M86 1904.81 H800 M86 1842.09 H800 M86 1779.37 H800 M86 1716.64 H800 M86 1653.92 H800" stroke="#dfdfdf" stroke-width="2" fill="none"/>
<path d="M165.33 2155.7 v-7.6 M165.33 1591.2 v7.6 M244.67 2155.7 v-7.6 M244.67 1591.2 v7.6 M324 2155.7 v-7.6 M324 1591.2 v7.6 M403.33 2155.7 v-7.6 M403.33 1591.2 v7.6 M482.67 2155.7 v-7.6 M482.67 1591.2 v7.6 M562 2155.7 v-7.6 M562 1591.2 v7.6 M641.33 2155.7 v-7.6 M641.33 1591.2 v7.6 M720.67 2155.7 v-7.6 M720.67 1591.2 v7.6 M86 2092.98 h7.6 M800 2092.98 h-7.6 M86 2030.26 h7.6 M800 2030.26 h-7.6 M86 1967.53 h7.6 M800 1967.53 h-7.6 M86 1904.81 h7.6 M800 1904.81 h-7.6 M86 1842.09 h7.6 M800 1842.09 h-7.6 M86 1779.37 h7.6 M800 1779.37 h-7.6 M86 1716.64 h7.6 M800 1716.64 h-7.6 M86 1653.92 h7.6 M800 1653.92 h-7.6" stroke="#262626" stroke-width="1.9" fill="none"/>
<rect x="86" y="1591.2" width="714" height="564.5" fill="none" stroke="#262626" stroke-width="1.9"/>
<clipPath id="clip-e"><rect x="83" y="1588.2" width="720" height="570.5"/></clipPath>
<g clip-path="url(#clip-e)" fill="none" stroke-width="4.2" stroke-linejoin="round" stroke-linecap="butt">
<path d="M86 1934.9 L87.5 1925.2 L89.1 1914.2 L92.9 1886.7 L96.5 1857.8 L106.7 1776.1 L109.2 1756.1 L111.4 1739.6 L113.9 1722.2 L116.2 1707.5 L118.5 1694.4 L120.7 1683.4 L122 1677.6 L123.3 1672.3 L124.5 1667.7 L125.8 1663.6 L127.2 1659.8 L128.7 1656.5 L130.1 1653.6 L131.7 1651.1 L133.3 1649 L134.1 1648.1 L135 1647.2 L136 1646.4 L136.9 1645.7 L137.9 1645.2 L138.9 1644.7 L140 1644.2 L141 1643.9 L142.1 1643.7 L143.2 1643.5 L144.4 1643.5 L145.4 1643.6 L146.5 1643.8 L147.6 1644 L149.2 1644.6 L150.8 1645.3 L152.4 1646.3 L154.2 1647.5 L155.9 1648.8 L157.8 1650.4 L159.6 1652.3 L161.6 1654.3 L163.5 1656.6 L165.5 1659 L167.7 1661.8 L169.8 1664.7 L174.5 1671.4 L179.8 1679.5 L184.6 1687.2 L190 1696.3 L195.7 1706 L201.8 1716.6 L213.8 1738 L239.5 1784.8 L251.3 1805.9 L263.8 1827.9 L275.4 1847.8 L282.1 1859 L288.5 1869.4 L294.8 1879.4 L301.3 1889.5 L307.7 1899.2 L314 1908.5 L320.1 1917.3 L326.1 1925.7 L331.9 1933.5 L337.8 1941.3 L343.5 1948.5 L349.7 1956 L356 1963.4 L362.5 1970.7 L369.1 1977.9 L375.5 1984.6 L382.4 1991.5 L389.4 1998.4 L396.6 2005.1 L403.6 2011.4 L410.7 2017.6 L418 2023.7 L425 2029.3 L432.1 2034.8 L440.2 2040.7 L448.5 2046.5 L457 2052.1 L465.7 2057.6 L474.6 2062.8 L483.2 2067.6 L492 2072.2 L500.9 2076.6 L510 2080.8 L519.4 2084.9 L528.9 2088.7 L539.1 2092.6 L549.6 2096.4 L559.8 2099.7 L570.2 2102.9 L581.3 2106.1 L592.1 2108.9 L603.8 2111.7 L615.1 2114.3 L627.2 2116.8 L639 2119 L651.7 2121.1 L664.6 2123.2 L677.9 2125 L691.4 2126.8 L706 2128.4 L720.2 2129.9 L735.4 2131.3 L751 2132.5 L767 2133.6 L783.3 2134.6 L800 2135.5" stroke="#000000"/>
<path d="M86 1934.9 L86.8 1931.7 L87.7 1928 L89.6 1919.1 L91.7 1907.9 L94 1894.4 L96 1882 L98.3 1867 L106.8 1810.1 L110.6 1785.8 L114.2 1762.8 L117.5 1743.2 L120.8 1725.4 L123.9 1710.1 L125.4 1703.2 L126.9 1696.6 L128.4 1690.6 L130 1684.9 L131.8 1678.7 L133.6 1673.3 L135.4 1668.3 L137.3 1663.9 L139.2 1660 L141.2 1656.4 L143.2 1653.4 L144.3 1652.1 L145.4 1650.9 L146.5 1649.8 L147.6 1648.7 L148.7 1647.9 L149.9 1647 L151.1 1646.3 L152.3 1645.7 L153.6 1645.3 L154.9 1644.9 L156.1 1644.6 L157.5 1644.4 L158.9 1644.3 L160.3 1644.3 L161.8 1644.4 L163.4 1644.6 L165 1644.9 L166.7 1645.3 L169 1646 L171.2 1646.8 L173.4 1647.8 L175.5 1648.9 L177.6 1650.2 L179.8 1651.7 L181.9 1653.3 L184 1655.1 L186.1 1657 L188.3 1659.2 L190.8 1661.8 L193.3 1664.6 L199.6 1672 L206.8 1681 L213.3 1689.3 L220 1698.2 L227 1707.7 L234.7 1718.4 L249.3 1739.1 L279.1 1782 L292.2 1800.6 L306 1820.1 L318.6 1837.3 L325.8 1846.9 L332.5 1855.8 L339.4 1864.8 L346.1 1873.4 L352.7 1881.6 L359.4 1889.9 L366 1897.7 L372.6 1905.6 L379.1 1913 L385.7 1920.4 L392.1 1927.4 L398.6 1934.4 L405.2 1941.3 L411.5 1947.8 L418 1954.3 L424.1 1960.2 L430.4 1966.2 L436.4 1971.6 L442.8 1977.4 L449 1982.8 L455.2 1988 L461.6 1993.2 L468 1998.3 L474.6 2003.3 L482.2 2008.9 L490 2014.4 L497.9 2019.8 L506 2025 L514.2 2030.1 L522.5 2035.1 L531 2040 L539.1 2044.4 L548 2049 L556.9 2053.5 L566.1 2057.8 L574.8 2061.7 L584.3 2065.8 L593.4 2069.5 L602.6 2073.1 L612.5 2076.8 L622.1 2080.1 L632.4 2083.6 L643 2086.9 L653.7 2090.1 L664 2093 L675.1 2096 L686.4 2098.9 L698 2101.7 L709.7 2104.3 L721.7 2106.9 L733.9 2109.4 L746.3 2111.7 L758.9 2114 L772.6 2116.3 L785.8 2118.4 L800 2120.5" stroke="#ff0000"/>
<path d="M86 1934.9 L87 1932.5 L88 1929.4 L89.1 1925.8 L90.3 1921.6 L91.5 1916.7 L92.8 1911.2 L95.6 1898 L98.1 1885.7 L100.9 1871.1 L111.7 1813 L116.5 1788 L121.3 1763.9 L125.6 1743.4 L127.6 1734.6 L129.6 1726.2 L131.5 1718.3 L133.5 1710.9 L135.4 1704 L137.3 1697.7 L139.2 1691.6 L141 1686.1 L143.3 1679.9 L145.6 1674.4 L147.8 1669.6 L150.2 1665.1 L152.7 1661.1 L153.9 1659.3 L155.2 1657.6 L156.5 1656 L157.9 1654.4 L159.2 1653.1 L160.6 1651.7 L162 1650.6 L163.5 1649.5 L165 1648.5 L166.6 1647.6 L168.1 1646.9 L169.8 1646.1 L171.5 1645.6 L173.2 1645.1 L174.9 1644.7 L176.7 1644.5 L178.4 1644.3 L180.3 1644.3 L182.2 1644.3 L184.2 1644.5 L186.1 1644.7 L188 1645.1 L190.6 1645.7 L193.1 1646.5 L195.7 1647.5 L198.5 1648.6 L201.2 1649.9 L204.1 1651.4 L206.8 1653.1 L209.9 1654.9 L212.8 1656.9 L215.9 1659.1 L219.1 1661.6 L222.4 1664.2 L225.7 1666.9 L229.1 1669.9 L232.6 1673 L236.3 1676.5 L243.2 1683.2 L250.4 1690.5 L258.3 1698.9 L266.8 1708.1 L274.2 1716.3 L282.4 1725.5 L313.7 1761.1 L327.3 1776.5 L342.2 1793.1 L357.1 1809.3 L370.2 1823.4 L383.1 1837 L395.9 1850.2 L408.3 1862.7 L415.9 1870.2 L423.7 1877.8 L431.2 1885 L438.5 1891.8 L445.9 1898.7 L453 1905.1 L460.2 1911.5 L467.1 1917.6 L474.1 1923.6 L481.3 1929.6 L488 1935.1 L494.9 1940.6 L501.9 1946.1 L509 1951.6 L516.2 1957 L523 1962 L530.5 1967.3 L538.1 1972.5 L545.7 1977.7 L553.6 1982.9 L561.5 1987.9 L569 1992.6 L576.6 1997.2 L584.3 2001.7 L592.1 2006.2 L600.1 2010.6 L608.1 2015 L616.3 2019.2 L624.6 2023.5 L633.1 2027.6 L641.6 2031.7 L649.7 2035.4 L658.5 2039.3 L666.7 2042.9 L675.8 2046.7 L684.3 2050.1 L693.6 2053.8 L702.3 2057.1 L711.9 2060.6 L720.9 2063.8 L730.8 2067.1 L740.1 2070.2 L750.2 2073.4 L759.7 2076.3 L770.2 2079.4 L780 2082.2 L789.9 2084.9 L800 2087.6" stroke="#00ff00"/>
<path d="M86 1934.9 L87.6 1930.3 L89.3 1925.2 L93.1 1912.8 L97.4 1897.9 L102.4 1880.1 L107.4 1861 L113 1839.3 L118.4 1818 L127.2 1783.1 L130.9 1768.4 L135 1752.8 L138.9 1738.9 L141.3 1730.6 L143.7 1722.8 L146.1 1715.4 L148.3 1708.8 L150.5 1702.6 L152.8 1696.6 L155 1691.2 L157.2 1685.9 L160 1680.1 L162.8 1674.7 L165.6 1670 L167 1667.8 L168.5 1665.8 L170 1663.8 L171.5 1662 L173 1660.3 L174.6 1658.5 L176.2 1657 L177.9 1655.5 L179.6 1654.1 L181.4 1652.8 L183.3 1651.5 L185.3 1650.4 L187.3 1649.3 L189.3 1648.4 L191.3 1647.6 L193.6 1646.8 L195.9 1646.1 L198.2 1645.5 L200.5 1645 L202.8 1644.7 L205 1644.4 L207.3 1644.3 L209.7 1644.2 L211.9 1644.3 L214.3 1644.5 L216.6 1644.7 L219.8 1645.3 L223.3 1646 L226.6 1647 L230.3 1648.1 L233.8 1649.4 L237.5 1651 L241.4 1652.8 L245.3 1654.8 L249.3 1657 L253.5 1659.3 L257.9 1662 L262.4 1664.9 L267.1 1668 L272.1 1671.5 L277.2 1675.2 L282.4 1679 L291.7 1686.1 L302.1 1694.4 L314.2 1704.2 L330 1717.2 L345.8 1730.4 L362.5 1744.4 L421.2 1794.2 L445 1814.2 L457.9 1825 L470.4 1835.2 L482.2 1844.9 L493.4 1853.9 L507.5 1865 L520.9 1875.5 L534.3 1885.7 L546.9 1895.1 L559.2 1904.1 L571.3 1912.6 L583.1 1920.8 L594.6 1928.5 L606.9 1936.5 L618.9 1944 L631.1 1951.5 L643.6 1958.8 L655.7 1965.7 L668.1 1972.4 L680.7 1979.1 L693.6 1985.6 L706.8 1992 L719.4 1997.9 L732.3 2003.6 L745.5 2009.3 L758.9 2014.8 L772.6 2020.2 L786.6 2025.5 L800 2030.3" stroke="#0000ff"/>
</g>
<g font-size="22" fill="#262626">
<text transform="translate(85.2 2187.4) scale(1 1.04)" text-anchor="middle">0</text>
<text transform="translate(164.53 2187.4) scale(1 1.04)" text-anchor="middle">10</text>
<text transform="translate(243.87 2187.4) scale(1 1.04)" text-anchor="middle">20</text>
<text transform="translate(323.2 2187.4) scale(1 1.04)" text-anchor="middle">30</text>
<text transform="translate(402.53 2187.4) scale(1 1.04)" text-anchor="middle">40</text>
<text transform="translate(481.87 2187.4) scale(1 1.04)" text-anchor="middle">50</text>
<text transform="translate(561.2 2187.4) scale(1 1.04)" text-anchor="middle">60</text>
<text transform="translate(640.53 2187.4) scale(1 1.04)" text-anchor="middle">70</text>
<text transform="translate(719.87 2187.4) scale(1 1.04)" text-anchor="middle">80</text>
<text transform="translate(799.2 2187.4) scale(1 1.04)" text-anchor="middle">90</text>
<text transform="translate(76.3 2165.4) scale(1 1.04)" text-anchor="end">0</text>
<text transform="translate(76.3 2102.68) scale(1 1.04)" text-anchor="end">100</text>
<text transform="translate(76.3 2039.96) scale(1 1.04)" text-anchor="end">200</text>
<text transform="translate(76.3 1977.23) scale(1 1.04)" text-anchor="end">300</text>
<text transform="translate(76.3 1914.51) scale(1 1.04)" text-anchor="end">400</text>
<text transform="translate(76.3 1851.79) scale(1 1.04)" text-anchor="end">500</text>
<text transform="translate(76.3 1789.07) scale(1 1.04)" text-anchor="end">600</text>
<text transform="translate(76.3 1726.34) scale(1 1.04)" text-anchor="end">700</text>
<text transform="translate(76.3 1663.62) scale(1 1.04)" text-anchor="end">800</text>
<text transform="translate(76.3 1600.9) scale(1 1.04)" text-anchor="end">900</text>
</g>
<text transform="translate(442 2221.3) scale(1 1.04)" font-size="24.8" fill="#262626" text-anchor="middle">Time in days</text>
<text transform="translate(18.6 1873.45) rotate(-90) scale(1 1.04)" font-size="24.8" fill="#262626" text-anchor="middle" xml:space="preserve">Infected redoents I<tspan font-size="17.6" dx="0.6" dy="11">r</tspan></text>
<rect x="496.9" y="1613.1" width="282" height="118.1" fill="#ffffff" stroke="#262626" stroke-width="1.9"/>
<path d="M508.1 1630.4 h70" stroke="#000000" stroke-width="4.2" fill="none"/>
<text x="582.5" y="1638.85" font-size="19.8" fill="#000000" xml:space="preserve">Fractional order= 0.5</text>
<path d="M508.1 1658.03 h70" stroke="#ff0000" stroke-width="4.2" fill="none"/>
<text x="582.5" y="1666.54" font-size="19.8" fill="#000000" xml:space="preserve">Fractional order=0.6</text>
<path d="M508.1 1685.66 h70" stroke="#00ff00" stroke-width="4.2" fill="none"/>
<text x="582.5" y="1694.23" font-size="19.8" fill="#000000" xml:space="preserve">Fractional order= 0.7</text>
<path d="M508.1 1713.29 h70" stroke="#0000ff" stroke-width="4.2" fill="none"/>
<text x="582.5" y="1721.92" font-size="19.8" fill="#000000" xml:space="preserve">Fractional order = 0.8</text>
<text transform="translate(419.9 2280.6) scale(1.003 1)" font-family="'Liberation Serif', 'DejaVu Serif', serif" font-size="35.4" fill="#000000" text-anchor="middle">(<tspan font-size="33.5">e</tspan>)</text>
</g>
</svg>
</body>
</html>
